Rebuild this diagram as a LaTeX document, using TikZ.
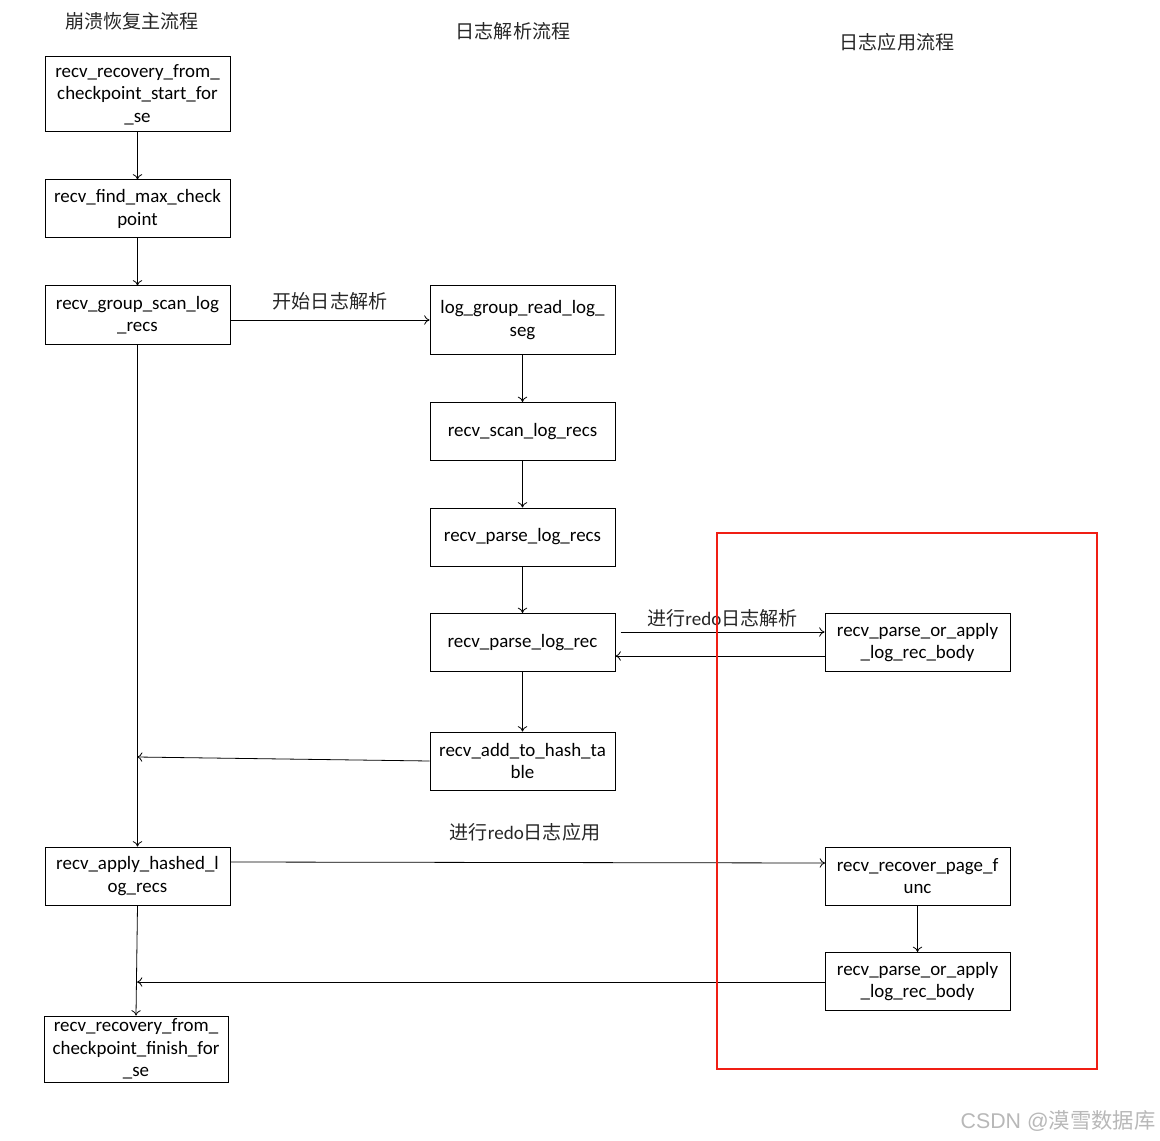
\documentclass[tikz,border=0pt]{standalone}
\usepackage{fontspec}
\setmainfont{Carlito}
\newfontfamily\cjk{Noto Sans CJK SC}
\usetikzlibrary{calc,arrows.meta}
\definecolor{frame}{RGB}{240,30,20}
\begin{document}
\begin{tikzpicture}[x=0.75pt,y=-0.75pt,
  box/.style={draw, line width=0.75pt, minimum width=185*0.75pt, inner sep=0pt, align=center,
    font=\fontsize{14.2}{16.9}\selectfont},
  conn/.style={line width=0.6pt, -{To[length=4pt,width=7pt]}},
  ttl/.style={font=\cjk\fontsize{14.3}{16}\selectfont, text=black!85},
  lbl/.style={font=\fontsize{14.3}{16}\selectfont, text=black!85}]
\useasboundingbox (0,0) rectangle (1160,1141);
% titles
\node[ttl] (t1) at (132,21) {崩溃恢复主流程};
\node[ttl] (t2) at (513,31) {日志解析流程};
\node[ttl] (t3) at (897,42) {日志应用流程};
% boxes
\node[box, minimum height=75*0.75pt] (A) at (137.5,94.5) {recv\_recovery\_from\_\\checkpoint\_start\_for\\\_se};
\node[box, minimum height=58*0.75pt] (B) at (137.5,209) {recv\_find\_max\_check\\point};
\node[box, minimum height=58*0.75pt] (C) at (137.5,315) {recv\_group\_scan\_log\\\_recs};
\node[box, minimum height=68*0.75pt] (D) at (522.5,320) {log\_group\_read\_log\_\\seg};
\node[box, minimum height=58*0.75pt] (E) at (522.5,431.5) {recv\_scan\_log\_recs};
\node[box, minimum height=58*0.75pt] (F) at (522.5,537) {recv\_parse\_log\_recs};
\node[box, minimum height=58*0.75pt] (G) at (522.5,642.5) {recv\_parse\_log\_rec};
\node[box, minimum height=58*0.75pt] (H) at (522.5,761) {recv\_add\_to\_hash\_ta\\ble};
\node[box, minimum height=58*0.75pt] (I) at (917.5,642.5) {recv\_parse\_or\_apply\\\_log\_rec\_body};
\node[box, minimum height=58*0.75pt] (J) at (137.5,876) {recv\_apply\_hashed\_l\\og\_recs};
\node[box, minimum height=58*0.75pt] (K) at (917.5,876) {recv\_recover\_page\_f\\unc};
\node[box, minimum height=58*0.75pt] (L) at (917.5,981.5) {recv\_parse\_or\_apply\\\_log\_rec\_body};
\node[box, minimum height=66*0.75pt, minimum width=184*0.75pt] (M) at (136,1049) {recv\_recovery\_from\_\\checkpoint\_finish\_for\\\_se};
% connectors
\draw[conn] (A) -- (B);
\draw[conn] (B) -- (C);
\draw[conn] (C) -- (J);
\draw[conn] (C.east |- 0,320) -- node[lbl, above=4pt, font=\cjk\fontsize{14.3}{16}\selectfont] (l1) {开始日志解析} (D.west |- 0,320);
\draw[conn] (D) -- (E);
\draw[conn] (E) -- (F);
\draw[conn] (F) -- (G);
\draw[conn] (G) -- (H);
\coordinate (hj) at (137,757);
\draw[conn] (H.west) -- (hj);
\draw[conn] ($(G.east)+(5,-10.5)$) -- node[lbl, above=0pt] (l2) {\cjk 进行\fontspec{Carlito}redo\cjk 日志解析} ($(I.west)+(0,-10.5)$);
\draw[conn] ($(I.west)+(0,13.5)$) -- ($(G.east)+(0,13.5)$);
\coordinate (jk) at (825,863);
\draw[conn] ($(J.east)+(0,-14)$) -- (jk);
\node[lbl] (l3) at (525,832) {\cjk 进行\fontspec{Carlito}redo\cjk 日志应用};
\draw[conn] (K) -- (L);
\coordinate (lm) at (137,982);
\draw[conn] (L.west |- 0,982) -- (lm);
\draw[conn] (J.south) -- (M.north);
% red frame
\draw[frame, line width=2pt] (717,533) rectangle (1097,1069);
% watermark
\node[font=\cjk\fontsize{16}{18}\selectfont, text=black!28] (wm) at (1058,1121) {\fontspec{Liberation Sans}CSDN @\cjk 漠雪数据库};
\end{tikzpicture}
\end{document}
